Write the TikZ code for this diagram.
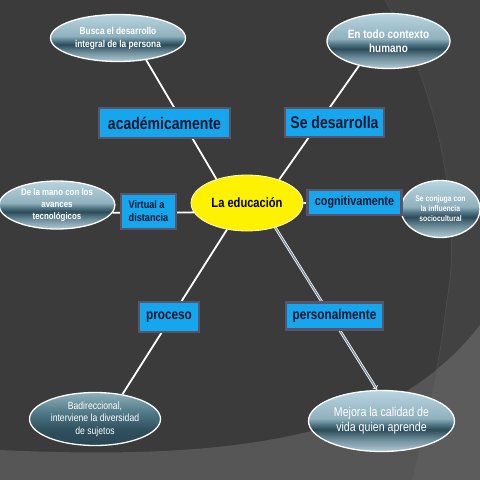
\documentclass[tikz,border=0pt]{standalone}
\usepackage{fontspec}
\setmainfont{Liberation Sans}
\newfontfamily\nb[FakeStretch=0.83]{Liberation Sans}
\usetikzlibrary{shapes.geometric,arrows.meta}
\pgfdeclarelayer{bgl}
\pgfdeclarelayer{lnl}
\pgfsetlayers{bgl,lnl,main}
\definecolor{bgdark}{HTML}{3B3B3B}
\definecolor{bgright}{HTML}{424242}
\definecolor{bgband}{HTML}{565656}
\definecolor{bgbandr}{HTML}{5C5C5C}
\definecolor{arcline}{HTML}{4C4C4C}
\definecolor{boxblue}{HTML}{16A6EE}
\definecolor{boxedge}{HTML}{58546A}
\definecolor{boxtext}{HTML}{0A1830}
\definecolor{eT}{HTML}{B8D5E0}
\definecolor{eM}{HTML}{8FB0BD}
\definecolor{eM2}{HTML}{4F7483}
\definecolor{eD}{HTML}{2C4B59}
\definecolor{eL}{HTML}{6D8D9A}
\definecolor{eB}{HTML}{B2CAD4}
\definecolor{dT}{HTML}{8EB0BB}
\definecolor{dM}{HTML}{4E7584}
\definecolor{dD}{HTML}{2F505E}
\definecolor{dB}{HTML}{2A4552}
\definecolor{dblin}{HTML}{7D93A6}
\pgfdeclareverticalshading{ellshade}{100bp}{color(0bp)=(eB); color(25bp)=(eB); color(35bp)=(eL); color(43bp)=(eD); color(47bp)=(eM2); color(52bp)=(eM); color(75bp)=(eT); color(100bp)=(eT)}
\pgfdeclareverticalshading{darkshade}{100bp}{color(0bp)=(dB); color(25bp)=(dB); color(40bp)=(dD); color(55bp)=(dM); color(75bp)=(dT); color(100bp)=(dT)}
\begin{document}
\begin{tikzpicture}[x=1pt,y=-1pt,
  bluebox/.style={fill=boxblue, draw=boxedge, line width=2.4pt, text=boxtext, inner sep=0pt},
  topic/.style={ellipse, shading=ellshade, draw=white, line width=1.3pt, text=white, inner sep=0pt, align=center},
  dtopic/.style={ellipse, shading=darkshade, draw=white, line width=1.3pt, text=white, inner sep=0pt, align=center},
  link/.style={draw=white, line width=1.8pt},
  dlink/.style={draw=white, line width=0.7pt, double=dblin, double distance=1.3pt, -{Implies}}]
\useasboundingbox (0,0) rectangle (480,480);
% background
\begin{pgfonlayer}{bgl}
  \fill[bgdark] (0,0) rectangle (480,480);
  \fill[bgright] (385,0) .. controls (440,90) and (462,220) .. (447,300) .. controls (440,360) and (428,420) .. (412,480) -- (480,480) -- (480,0) -- cycle;
  \draw[arcline, line width=0.8pt] (385,0) .. controls (440,90) and (462,220) .. (447,300) .. controls (440,360) and (428,420) .. (412,480);
  \fill[bgband] (0,450) .. controls (150,457) and (250,449) .. (330,426) .. controls (400,404) and (450,365) .. (480,325) -- (480,480) -- (0,480) -- cycle;
  \begin{scope}
    \clip (0,450) .. controls (150,457) and (250,449) .. (330,426) .. controls (400,404) and (450,365) .. (480,325) -- (480,480) -- (0,480) -- cycle;
    \fill[bgbandr] (447,300) .. controls (440,360) and (428,420) .. (412,480) -- (480,480) -- (480,300) -- cycle;
  \end{scope}
\end{pgfonlayer}
% nodes
\node[ellipse, fill=yellow, draw=white!80!yellow, line width=0.8pt, minimum width=112pt, minimum height=56pt, inner sep=0pt, font=\nb\bfseries\fontsize{13.4}{15}\selectfont, text=black] (edu) at (247,203) {La educación};
\node[topic, minimum width=135pt, minimum height=47pt, font=\nb\bfseries\fontsize{10}{13}\selectfont] (busca) at (118,38) {Busca el desarrollo\\integral de la persona};
\node[topic, minimum width=123pt, minimum height=55pt, font=\nb\bfseries\fontsize{12}{14}\selectfont] (entodo) at (388.5,41) {En todo contexto\\humano};
\node[topic, minimum width=116pt, minimum height=48pt, font=\nb\bfseries\fontsize{9.5}{12}\selectfont] (demano) at (57,205) {De la mano con los\\avances\\tecnológicos};
\node[topic, minimum width=79pt, minimum height=57pt, font=\nb\bfseries\fontsize{8.2}{10}\selectfont] (conjuga) at (440.5,209) {Se conjuga con\\la influencia\\sociocultural};
\node[dtopic, minimum width=131pt, minimum height=53pt, font=\nb\fontsize{10.4}{12.5}\selectfont] (badir) at (95,419) {Badireccional,\\interviene la diversidad\\de sujetos};
\node[topic, minimum width=146pt, minimum height=61pt, font=\nb\fontsize{12.8}{15}\selectfont] (mejora) at (381.5,421) {Mejora la calidad de\\vida quien aprende};
\node[bluebox, minimum width=131.5pt, minimum height=30.5pt, font=\nb\bfseries\fontsize{16.9}{18}\selectfont] (acad) at (164.5,123) {académicamente\hspace{6pt}};
\node[bluebox, minimum width=99pt, minimum height=29pt, font=\nb\bfseries\fontsize{16.9}{18}\selectfont] (sedes) at (334.5,122.5) {Se desarrolla};
\node[bluebox, minimum width=55pt, minimum height=35pt, align=left, font=\nb\bfseries\fontsize{11}{13}\selectfont] (virtual) at (148.5,211.5) {Virtual a\\distancia};
\node[bluebox, minimum width=94pt, minimum height=25pt, font=\nb\bfseries\fontsize{13}{15}\selectfont] (cogn) at (354.5,202.5) {cognitivamente};
\node[bluebox, minimum width=60pt, minimum height=30pt, font=\nb\bfseries\fontsize{14.2}{16}\selectfont] (proceso) at (169,317) {proceso};
\node[bluebox, minimum width=97pt, minimum height=27pt, font=\nb\bfseries\fontsize{14.2}{16}\selectfont] (personal) at (334.5,316) {personalmente};
% connectors
\begin{pgfonlayer}{lnl}
  \draw[link] (busca.-38) -- (edu.142);
  \draw[link] (entodo.220) -- (edu.36);
  \draw[link] (demano.-8) -- (edu.190);
  \draw[link] (edu.east) -- (conjuga.172);
  \draw[link] (edu.233) -- (badir.42);
  \draw[dlink] (edu.-41) -- (mejora.98);
\end{pgfonlayer}
\end{tikzpicture}
\end{document}
